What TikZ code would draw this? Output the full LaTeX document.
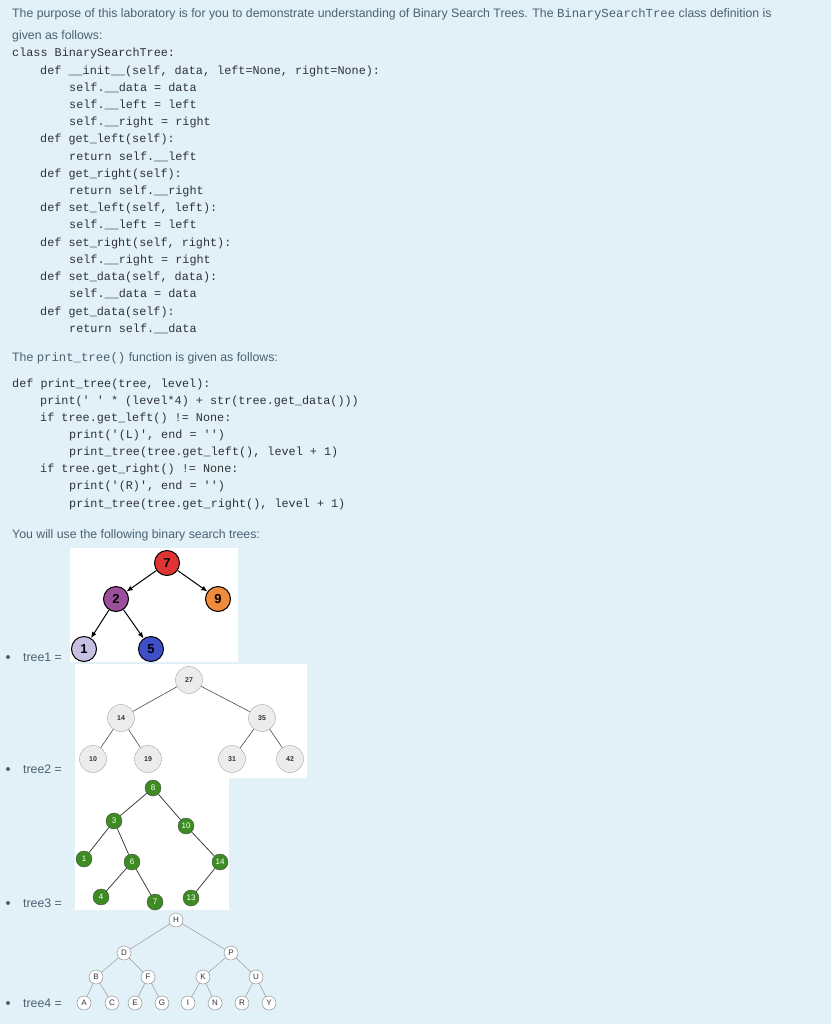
\documentclass[tikz,border=0pt]{standalone}
\usepackage{fontspec}
\setmainfont{Liberation Sans}
\newfontfamily\codefont{Liberation Mono}
\usetikzlibrary{arrows.meta}
\definecolor{bg}{HTML}{E2F0F8}
\definecolor{txt}{HTML}{4A6272}
\definecolor{code}{HTML}{2E3236}
\definecolor{gr}{HTML}{3C8C22}
\begin{document}
\begin{tikzpicture}[x=1pt,y=-1pt,
 para/.style={anchor=base west,inner sep=0,text=txt,font=\fontsize{12.3}{14}\selectfont},
 cd/.style={anchor=base west,inner sep=0,text=code,font=\codefont\fontsize{11.8}{14}\selectfont},
 t1/.style={circle,draw=black,line width=1pt,minimum size=25pt,inner sep=0,font=\bfseries\fontsize{13}{13}\selectfont},
 t2/.style={circle,draw=gray!70,fill=gray!15,minimum size=27pt,inner sep=0,font=\bfseries\fontsize{7}{7}\selectfont,text=black!80},
 t3/.style={circle,draw=black!70,fill=gr,minimum size=16pt,inner sep=0,font=\fontsize{8}{8}\selectfont,text=white},
 t4/.style={circle,draw=gray,fill=white,minimum size=14pt,inner sep=0,font=\fontsize{8}{8}\selectfont,text=black!80},
 a1/.style={-{Latex[length=6pt,width=5pt]},line width=1pt},
 e2/.style={draw=black!70,line width=0.6pt},
 e3/.style={draw=black!75,line width=0.8pt},
 e4/.style={draw=gray!80,line width=0.5pt},
 bul/.style={circle,fill=txt,inner sep=0,minimum size=4pt}]
\fill[bg] (0,0) rectangle (831,1024);
\useasboundingbox (0,0) rectangle (831,1024);
\node[para] (p1) at (12,18) {The purpose of this laboratory is for you to demonstrate understanding of Binary Search Trees. The {\codefont BinarySearchTree} class definition is};
\node[para] (p2) at (12,40) {given as follows:};
\foreach \i/\x/\s in {0/12/{class BinarySearchTree:},1/40/{def \_\_init\_\_(self, data, left=None, right=None):},2/69/{self.\_\_data = data},3/69/{self.\_\_left = left},4/69/{self.\_\_right = right},5/40/{def get\_left(self):},6/69/{return self.\_\_left},7/40/{def get\_right(self):},8/69/{return self.\_\_right},9/40/{def set\_left(self, left):},10/69/{self.\_\_left = left},11/40/{def set\_right(self, right):},12/69/{self.\_\_right = right},13/40/{def set\_data(self, data):},14/69/{self.\_\_data = data},15/40/{def get\_data(self):},16/69/{return self.\_\_data}}
 \node[cd] (c\i) at (\x,57+17.2*\i) {\s};
\node[para] (p3) at (12,361) {The {\codefont print\_tree()} function is given as follows:};
\foreach \i/\x/\s in {0/12/{def print\_tree(tree, level):},1/40/{print(' ' * (level*4) + str(tree.get\_data()))},2/40/{if tree.get\_left() != None:},3/69/{print('(L)', end = '')},4/69/{print\_tree(tree.get\_left(), level + 1)},5/40/{if tree.get\_right() != None:},6/69/{print('(R)', end = '')},7/69/{print\_tree(tree.get\_right(), level + 1)}}
 \node[cd] (d\i) at (\x,387+17.15*\i) {\s};
\node[para] (p4) at (12,538) {You will use the following binary search trees:};
% panels
\fill[white] (70,548) rectangle (238,662);
\fill[white] (75,664) rectangle (307,778);
\fill[white] (75,778) rectangle (229,910);
% bullets
\foreach \n/\y in {1/657,2/769,3/903,4/1003}{
 \node[bul] (b\n) at (8,\y) {};
 \node[para,anchor=west] (l\n) at (23,\y) {tree\n\ =};}
% tree1
\node[t1,fill={rgb,255:red,224;green,52;blue,50}] (n7) at (167,563) {7};
\node[t1,fill={rgb,255:red,155;green,79;blue,155}] (n2) at (116,599) {2};
\node[t1,fill={rgb,255:red,240;green,138;blue,60}] (n9) at (218,599) {9};
\node[t1,fill={rgb,255:red,200;green,192;blue,226}] (n1) at (84,649) {1};
\node[t1,fill={rgb,255:red,63;green,79;blue,200}] (n5) at (151,649) {5};
\draw[a1] (n7) -- (n2); \draw[a1] (n7) -- (n9);
\draw[a1] (n2) -- (n1); \draw[a1] (n2) -- (n5);
% tree2
\node[t2] (m27) at (189,680) {27};
\node[t2] (m14) at (121,718) {14};
\node[t2] (m35) at (262,718) {35};
\node[t2] (m10) at (93,759) {10};
\node[t2] (m19) at (148,759) {19};
\node[t2] (m31) at (232,759) {31};
\node[t2] (m42) at (290,759) {42};
\foreach \a/\b in {m27/m14,m27/m35,m14/m10,m14/m19,m35/m31,m35/m42} \draw[e2] (\a) -- (\b);
% tree3
\node[t3] (g8) at (153,788) {8};
\node[t3] (g3) at (114,821) {3};
\node[t3] (g10) at (186,826) {10};
\node[t3] (g1) at (84,859) {1};
\node[t3] (g6) at (132,862) {6};
\node[t3] (g14) at (220,862) {14};
\node[t3] (g4) at (101,897) {4};
\node[t3] (g7) at (155,902) {7};
\node[t3] (g13) at (191,898) {13};
\foreach \a/\b in {g8/g3,g8/g10,g3/g1,g3/g6,g6/g4,g6/g7,g10/g14,g14/g13} \draw[e3] (\a) -- (\b);
% tree4
\node[t4] (H) at (176,920) {H};
\node[t4] (D) at (124,953) {D};
\node[t4] (P) at (231,953) {P};
\node[t4] (B) at (96,977) {B};
\node[t4] (F) at (148,977) {F};
\node[t4] (K) at (203,977) {K};
\node[t4] (U) at (256,977) {U};
\foreach \n/\x in {A/84,C/112,E/135,G/162,I/188,N/215,R/242,Y/269} \node[t4] (\n) at (\x,1003) {\n};
\foreach \a/\b in {H/D,H/P,D/B,D/F,P/K,P/U,B/A,B/C,F/E,F/G,K/I,K/N,U/R,U/Y} \draw[e4] (\a) -- (\b);
\end{tikzpicture}
\end{document}
